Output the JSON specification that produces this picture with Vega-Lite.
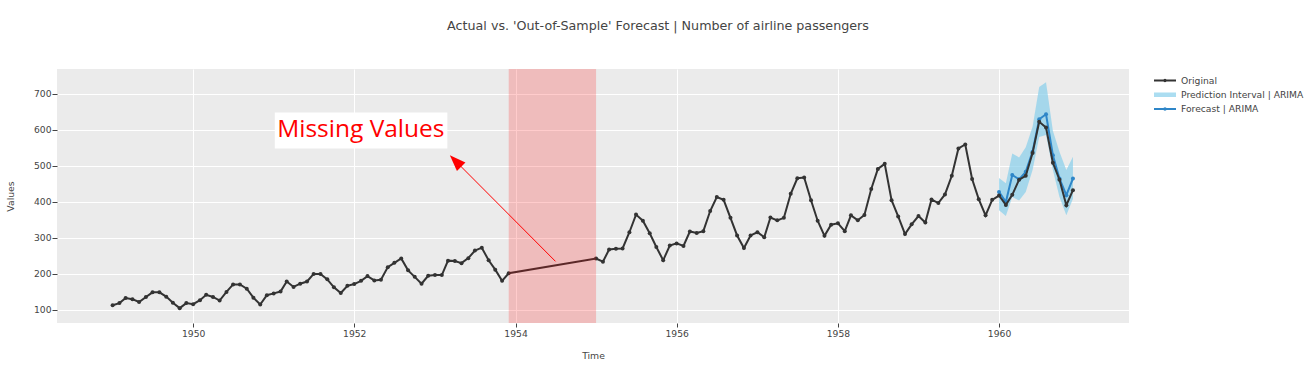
{
  "$schema": "https://vega.github.io/schema/vega-lite/v6.json",
  "width": 1072,
  "height": 254,
  "autosize": {"type": "none"},
  "padding": {"left": 57, "top": 69, "right": 182, "bottom": 54},
  "background": "white",
  "config": {
    "font": "DejaVu Sans",
    "view": {"fill": "#EBEBEB", "stroke": null},
    "axis": {
      "gridColor": "white", "gridWidth": 1, "domain": false,
      "tickColor": "#444", "tickSize": 5, "labelColor": "#444", "labelFontSize": 9.2,
      "titleColor": "#444", "titleFontSize": 9.3, "titleFontWeight": "normal",
      "labelFont": "DejaVu Sans", "titleFont": "DejaVu Sans"
    }
  },
  "title": {
    "text": "Actual vs. 'Out-of-Sample' Forecast | Number of airline passengers",
    "fontSize": 12.7, "fontWeight": "normal", "color": "#444", "font": "DejaVu Sans",
    "anchor": "middle", "dx": 65, "offset": 36
  },
  "datasets": {
    "orig": [
      {"date": "1949-01-01", "value": 112}, {"date": "1949-02-01", "value": 118}, {"date": "1949-03-01", "value": 132}, {"date": "1949-04-01", "value": 129}, {"date": "1949-05-01", "value": 121}, {"date": "1949-06-01", "value": 135}, {"date": "1949-07-01", "value": 148}, {"date": "1949-08-01", "value": 148}, {"date": "1949-09-01", "value": 136}, {"date": "1949-10-01", "value": 119}, {"date": "1949-11-01", "value": 104}, {"date": "1949-12-01", "value": 118},
      {"date": "1950-01-01", "value": 115}, {"date": "1950-02-01", "value": 126}, {"date": "1950-03-01", "value": 141}, {"date": "1950-04-01", "value": 135}, {"date": "1950-05-01", "value": 125}, {"date": "1950-06-01", "value": 149}, {"date": "1950-07-01", "value": 170}, {"date": "1950-08-01", "value": 170}, {"date": "1950-09-01", "value": 158}, {"date": "1950-10-01", "value": 133}, {"date": "1950-11-01", "value": 114}, {"date": "1950-12-01", "value": 140},
      {"date": "1951-01-01", "value": 145}, {"date": "1951-02-01", "value": 150}, {"date": "1951-03-01", "value": 178}, {"date": "1951-04-01", "value": 163}, {"date": "1951-05-01", "value": 172}, {"date": "1951-06-01", "value": 178}, {"date": "1951-07-01", "value": 199}, {"date": "1951-08-01", "value": 199}, {"date": "1951-09-01", "value": 184}, {"date": "1951-10-01", "value": 162}, {"date": "1951-11-01", "value": 146}, {"date": "1951-12-01", "value": 166},
      {"date": "1952-01-01", "value": 171}, {"date": "1952-02-01", "value": 180}, {"date": "1952-03-01", "value": 193}, {"date": "1952-04-01", "value": 181}, {"date": "1952-05-01", "value": 183}, {"date": "1952-06-01", "value": 218}, {"date": "1952-07-01", "value": 230}, {"date": "1952-08-01", "value": 242}, {"date": "1952-09-01", "value": 209}, {"date": "1952-10-01", "value": 191}, {"date": "1952-11-01", "value": 172}, {"date": "1952-12-01", "value": 194},
      {"date": "1953-01-01", "value": 196}, {"date": "1953-02-01", "value": 196}, {"date": "1953-03-01", "value": 236}, {"date": "1953-04-01", "value": 235}, {"date": "1953-05-01", "value": 229}, {"date": "1953-06-01", "value": 243}, {"date": "1953-07-01", "value": 264}, {"date": "1953-08-01", "value": 272}, {"date": "1953-09-01", "value": 237}, {"date": "1953-10-01", "value": 211}, {"date": "1953-11-01", "value": 180}, {"date": "1953-12-01", "value": 201},
      {"date": "1955-01-01", "value": 242}, {"date": "1955-02-01", "value": 233}, {"date": "1955-03-01", "value": 267}, {"date": "1955-04-01", "value": 269}, {"date": "1955-05-01", "value": 270}, {"date": "1955-06-01", "value": 315}, {"date": "1955-07-01", "value": 364}, {"date": "1955-08-01", "value": 347}, {"date": "1955-09-01", "value": 312}, {"date": "1955-10-01", "value": 274}, {"date": "1955-11-01", "value": 237}, {"date": "1955-12-01", "value": 278},
      {"date": "1956-01-01", "value": 284}, {"date": "1956-02-01", "value": 277}, {"date": "1956-03-01", "value": 317}, {"date": "1956-04-01", "value": 313}, {"date": "1956-05-01", "value": 318}, {"date": "1956-06-01", "value": 374}, {"date": "1956-07-01", "value": 413}, {"date": "1956-08-01", "value": 405}, {"date": "1956-09-01", "value": 355}, {"date": "1956-10-01", "value": 306}, {"date": "1956-11-01", "value": 271}, {"date": "1956-12-01", "value": 306},
      {"date": "1957-01-01", "value": 315}, {"date": "1957-02-01", "value": 301}, {"date": "1957-03-01", "value": 356}, {"date": "1957-04-01", "value": 348}, {"date": "1957-05-01", "value": 355}, {"date": "1957-06-01", "value": 422}, {"date": "1957-07-01", "value": 465}, {"date": "1957-08-01", "value": 467}, {"date": "1957-09-01", "value": 404}, {"date": "1957-10-01", "value": 347}, {"date": "1957-11-01", "value": 305}, {"date": "1957-12-01", "value": 336},
      {"date": "1958-01-01", "value": 340}, {"date": "1958-02-01", "value": 318}, {"date": "1958-03-01", "value": 362}, {"date": "1958-04-01", "value": 348}, {"date": "1958-05-01", "value": 363}, {"date": "1958-06-01", "value": 435}, {"date": "1958-07-01", "value": 491}, {"date": "1958-08-01", "value": 505}, {"date": "1958-09-01", "value": 404}, {"date": "1958-10-01", "value": 359}, {"date": "1958-11-01", "value": 310}, {"date": "1958-12-01", "value": 337},
      {"date": "1959-01-01", "value": 360}, {"date": "1959-02-01", "value": 342}, {"date": "1959-03-01", "value": 406}, {"date": "1959-04-01", "value": 396}, {"date": "1959-05-01", "value": 420}, {"date": "1959-06-01", "value": 472}, {"date": "1959-07-01", "value": 548}, {"date": "1959-08-01", "value": 559}, {"date": "1959-09-01", "value": 463}, {"date": "1959-10-01", "value": 407}, {"date": "1959-11-01", "value": 362}, {"date": "1959-12-01", "value": 405},
      {"date": "1960-01-01", "value": 417}, {"date": "1960-02-01", "value": 391}, {"date": "1960-03-01", "value": 419}, {"date": "1960-04-01", "value": 461}, {"date": "1960-05-01", "value": 472}, {"date": "1960-06-01", "value": 535}, {"date": "1960-07-01", "value": 622}, {"date": "1960-08-01", "value": 606}, {"date": "1960-09-01", "value": 508}, {"date": "1960-10-01", "value": 461}, {"date": "1960-11-01", "value": 390}, {"date": "1960-12-01", "value": 432}
    ],
    "fc": [
      {"date": "1960-01-01", "value": 427, "lo": 376, "hi": 466},
      {"date": "1960-02-01", "value": 399, "lo": 360, "hi": 451},
      {"date": "1960-03-01", "value": 474, "lo": 413, "hi": 534},
      {"date": "1960-04-01", "value": 462, "lo": 403, "hi": 523},
      {"date": "1960-05-01", "value": 483, "lo": 427, "hi": 551},
      {"date": "1960-06-01", "value": 539, "lo": 488, "hi": 608},
      {"date": "1960-07-01", "value": 629, "lo": 580, "hi": 719},
      {"date": "1960-08-01", "value": 643, "lo": 585, "hi": 732},
      {"date": "1960-09-01", "value": 529, "lo": 488, "hi": 597},
      {"date": "1960-10-01", "value": 464, "lo": 413, "hi": 539},
      {"date": "1960-11-01", "value": 418, "lo": 362, "hi": 488},
      {"date": "1960-12-01", "value": 464, "lo": 408, "hi": 525}
    ],
    "gap": [{"start": "1953-12-01", "end": "1955-01-01"}],
    "note": [{"label": "Missing Values", "bx": "1951-01-06", "bx2": "1953-02-26", "by": 548, "by2": 648, "tx": "1952-01-31", "ty": 599}],
    "arrow": [{"tail_x": "1954-07-01", "tail_y": 234, "head_x": "1953-04-04", "head_y": 513}]
  },
  "layer": [
    {
      "data": {"name": "fc"},
      "mark": {"type": "area", "opacity": 0.7},
      "encoding": {
        "x": {
          "field": "date", "type": "temporal", "title": "Time",
          "scale": {"type": "utc", "domain": [{"year": 1948, "month": 4, "date": 24, "utc": true}, {"year": 1961, "month": 8, "date": 12, "utc": true}]},
          "axis": {
            "values": [{"year": 1950, "month": 1, "date": 1, "utc": true}, {"year": 1952, "month": 1, "date": 1, "utc": true}, {"year": 1954, "month": 1, "date": 1, "utc": true}, {"year": 1956, "month": 1, "date": 1, "utc": true}, {"year": 1958, "month": 1, "date": 1, "utc": true}, {"year": 1960, "month": 1, "date": 1, "utc": true}],
            "format": "%Y", "formatType": "utc", "tickSize": 4, "labelPadding": 2,
            "titleX": 536, "titleY": 32, "titleBaseline": "middle", "titleAlign": "center"
          }
        },
        "y": {
          "field": "lo", "type": "quantitative", "title": "Values",
          "scale": {"domain": [62.7, 768.7], "nice": false, "zero": false},
          "axis": {
            "values": [100, 200, 300, 400, 500, 600, 700], "labelPadding": 1,
            "titleX": -47, "titleY": 127, "titleBaseline": "middle", "titleAlign": "center", "titleAngle": -90
          }
        },
        "y2": {"field": "hi"},
        "color": {
          "datum": "Prediction Interval | ARIMA",
          "scale": {"domain": ["Original", "Prediction Interval | ARIMA", "Forecast | ARIMA"], "range": ["#333333", "#87CEEB", "#2e86c8"]},
          "legend": {
            "orient": "none", "legendX": 1097, "legendY": 5.5, "title": null, "padding": 0,
            "labelFontSize": 9.2, "labelColor": "#444", "labelFont": "DejaVu Sans", "labelOffset": 5,
            "clipHeight": 12, "rowPadding": 2.2, "symbolSize": 484, "symbolType": "M-1,-0.09H1V0.09H-1Z",
            "symbolStrokeWidth": 0, "symbolOpacity": 1, "symbolOffset": 0,
            "encode": {
              "symbols": {
                "update": {
                  "shape": {"signal": "datum.value === 'Prediction Interval | ARIMA' ? 'M-1,-0.2H1V0.2H-1Z' : 'M-1,-0.09H1V0.09H-1ZM-0.16,0A0.16,0.16,0,1,1,0.16,0A0.16,0.16,0,1,1,-0.16,0Z'"},
                  "size": {"value": 484},
                  "strokeWidth": {"value": 0},
                  "fill": {"scale": "color", "field": "value"},
                  "opacity": {"signal": "datum.value === 'Prediction Interval | ARIMA' ? 0.7 : 1"}
                }
              }
            }
          }
        }
      }
    },
    {
      "data": {"name": "fc"},
      "mark": {"type": "line", "strokeWidth": 2, "point": {"filled": true, "size": 16}},
      "encoding": {
        "x": {"field": "date", "type": "temporal"},
        "y": {"field": "value", "type": "quantitative"},
        "color": {"datum": "Forecast | ARIMA"}
      }
    },
    {
      "data": {"name": "orig"},
      "mark": {"type": "line", "strokeWidth": 2, "point": {"filled": true, "size": 16}},
      "encoding": {
        "x": {"field": "date", "type": "temporal"},
        "y": {"field": "value", "type": "quantitative"},
        "color": {"datum": "Original"}
      }
    },
    {
      "data": {"name": "gap"},
      "mark": {"type": "rect", "color": "red", "opacity": 0.2},
      "encoding": {
        "x": {"field": "start", "type": "temporal"},
        "x2": {"field": "end"}
      }
    },
    {
      "data": {"name": "note"},
      "mark": {"type": "rect", "color": "white", "opacity": 1},
      "encoding": {
        "x": {"field": "bx", "type": "temporal"},
        "x2": {"field": "bx2"},
        "y": {"field": "by", "type": "quantitative"},
        "y2": {"field": "by2"}
      }
    },
    {
      "data": {"name": "note"},
      "mark": {"type": "text", "color": "red", "font": "Open Sans", "fontSize": 24.5, "align": "center", "baseline": "middle"},
      "encoding": {
        "x": {"field": "tx", "type": "temporal"},
        "y": {"field": "ty", "type": "quantitative"},
        "text": {"field": "label"}
      }
    },
    {
      "data": {"name": "arrow"},
      "mark": {"type": "rule", "color": "red", "strokeWidth": 1},
      "encoding": {
        "x": {"field": "tail_x", "type": "temporal"},
        "y": {"field": "tail_y", "type": "quantitative"},
        "x2": {"field": "head_x"},
        "y2": {"field": "head_y"}
      }
    },
    {
      "data": {"name": "arrow"},
      "mark": {"type": "point", "shape": "M0,-1L-0.75,1L0.75,1Z", "filled": true, "color": "red", "opacity": 1, "size": 256, "angle": 315},
      "encoding": {
        "x": {"field": "head_x", "type": "temporal"},
        "y": {"field": "head_y", "type": "quantitative"}
      }
    }
  ]
}
